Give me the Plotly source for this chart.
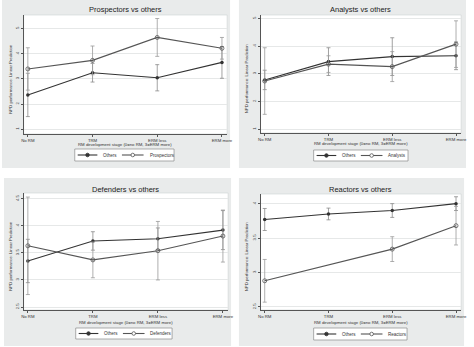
import plotly.graph_objects as go

W, H = 474, 347

stages = ["No RM", "TRM", "ERM less", "ERM more"]
xpos = [0, 1, 2, 3]

# Panel 1: Prospectors vs others
p1_others = [2.36, 3.24, 3.04, 3.65]
p1_others_err = [0.86, 0.37, 0.52, 0.63]
p1_group = [3.39, 3.73, 4.64, 4.21]
p1_group_err = [0.84, 0.57, 0.75, 0.43]

# Panel 2: Analysts vs others
p2_others = [2.78, 3.44, 3.62, 3.65]
p2_others_err = [0.35, 0.50, 0.68, 0.50]
p2_group = [2.74, 3.35, 3.26, 4.07]
p2_group_err = [1.20, 0.30, 0.54, 0.84]

# Panel 3: Defenders vs others
p3_others = [3.35, 3.72, 3.76, 3.92]
p3_others_err = [0.40, 0.17, 0.20, 0.36]
p3_group = [3.63, 3.37, 3.54, 3.81]
p3_group_err = [0.90, 0.33, 0.54, 0.48]

# Panel 4: Reactors vs others
p4_others = [3.77, 3.85, 3.90, 4.00]
p4_others_err = [0.16, 0.085, 0.10, 0.10]
p4_group = [2.88, None, 3.34, 3.68]
p4_group_err = [0.31, 0, 0.18, 0.28]

panels = [
    dict(title="Prospectors vs others", group="Prospectors",
         others=p1_others, oerr=p1_others_err, grp=p1_group, gerr=p1_group_err,
         box=(0, 0, 232, 168), plot=(22, 15, 229, 134), yr=[0.81, 5.53],
         yticks=[1, 2, 3, 4, 5], ylabels=["1", "2", "3", "4", "5"],
         xt_off=10.5, legbox=(74, 149, 175, 161)),
    dict(title="Analysts vs others", group="Analysts",
         others=p2_others, oerr=p2_others_err, grp=p2_group, gerr=p2_group_err,
         box=(241, 0, 472, 168), plot=(263, 15, 467, 133), yr=[0.867, 5.12],
         yticks=[1, 2, 3, 4, 5], ylabels=["1", "2", "3", "4", "5"],
         xt_off=11, legbox=(317, 150, 413, 161)),
    dict(title="Defenders vs others", group="Defenders",
         others=p3_others, oerr=p3_others_err, grp=p3_group, gerr=p3_group_err,
         box=(2, 178, 233, 346), plot=(22, 193, 230, 310), yr=[2.445, 4.605],
         yticks=[2.5, 3, 3.5, 4, 4.5], ylabels=["2.5", "3", "3.5", "4", "4.5"],
         xt_off=12, legbox=(75, 328, 173, 339)),
    dict(title="Reactors vs others", group="Reactors",
         others=p4_others, oerr=p4_others_err, grp=p4_group, gerr=p4_group_err,
         box=(241, 178, 470, 346), plot=(263, 194, 467, 310), yr=[2.456, 4.14],
         yticks=[2.5, 3, 3.5, 4], ylabels=["2.5", "3", "3.5", "4"],
         xt_off=12, legbox=(317, 328, 412, 340)),
]

FONT = "Liberation Sans, Arial, sans-serif"
OTHERS_C = "#333333"
GROUP_C = "#555555"

fig = go.Figure()
shapes = []
annotations = []
layout_axes = {}


def px(x):
    return x / W


def py(y):
    return 1 - y / H


for i, p in enumerate(panels):
    n = "" if i == 0 else str(i + 1)
    xa, ya = "x" + n, "y" + n
    bx0, by0, bx1, by1 = p["box"]
    shapes.append(dict(type="rect", xref="paper", yref="paper",
                       x0=px(bx0), x1=px(bx1), y0=py(by1), y1=py(by0),
                       fillcolor="#e9ebeb", line=dict(width=0), layer="below"))
    px0, py0, px1, py1 = p["plot"]
    shapes.append(dict(type="rect", xref="paper", yref="paper",
                       x0=px(px0), x1=px(px1), y0=py(py1), y1=py(py0),
                       fillcolor="white", line=dict(width=0.6, color="#cfd3d3"), layer="below"))
    layout_axes["xaxis" + n] = dict(
        domain=[px(px0), px(px1)], anchor=ya, range=[-0.065, 3.08],
        tickmode="array", tickvals=xpos, ticktext=stages,
        showgrid=False, zeroline=False, showline=True, linecolor="#555", linewidth=0.8,
        ticks="outside", ticklen=2, tickcolor="#555",
        tickfont=dict(size=4.3, color="#333", family=FONT), fixedrange=True)
    layout_axes["yaxis" + n] = dict(
        domain=[py(py1), py(py0)], anchor=xa, range=p["yr"],
        tickmode="array", tickvals=p["yticks"], ticktext=p["ylabels"], tickangle=-90,
        showgrid=True, gridcolor="#e6e8e8", gridwidth=0.8,
        zeroline=False, showline=True, linecolor="#555", linewidth=0.8,
        ticks="outside", ticklen=2, tickcolor="#555",
        tickfont=dict(size=4.3, color="#333", family=FONT), fixedrange=True)

    fig.add_trace(go.Scatter(
        x=xpos, y=p["others"], name="Others", xaxis=xa, yaxis=ya, showlegend=False,
        mode="lines+markers", connectgaps=True,
        line=dict(color=OTHERS_C, width=1.1),
        marker=dict(symbol="circle", size=3.5, color=OTHERS_C),
        error_y=dict(type="data", array=p["oerr"], visible=True,
                     color="#8a8a8a", thickness=0.8, width=2)))
    fig.add_trace(go.Scatter(
        x=xpos, y=p["grp"], name=p["group"], xaxis=xa, yaxis=ya, showlegend=False,
        mode="lines+markers", connectgaps=True,
        line=dict(color=GROUP_C, width=1.1),
        marker=dict(symbol="circle-open", size=4, color=GROUP_C, line=dict(width=0.8)),
        error_y=dict(type="data", array=p["gerr"], visible=True,
                     color="#9a9a9a", thickness=0.8, width=2)))

    cx = (px0 + px1) / 2
    annotations.append(dict(text=p["title"], xref="paper", yref="paper",
                            x=px(cx), y=py(by0 + (10 if i < 2 else 11)),
                            showarrow=False, xanchor="center", yanchor="middle",
                            font=dict(size=7.5, color="#222", family=FONT)))
    annotations.append(dict(text="RM development stage (0=no RM, 3=ERM more)",
                            xref="paper", yref="paper", x=px(cx), y=py(py1 + p["xt_off"]),
                            showarrow=False, xanchor="center", yanchor="middle",
                            font=dict(size=4.3, color="#333", family=FONT)))
    annotations.append(dict(text="NPD performance: Linear Prediction",
                            xref="paper", yref="paper", x=px(px0 - 13.5),
                            y=py((py0 + py1) / 2 + 4), textangle=-90,
                            showarrow=False, xanchor="center", yanchor="middle",
                            font=dict(size=4.3, color="#333", family=FONT)))

    # legend box (Stata style)
    lx0, ly0, lx1, ly1 = p["legbox"]
    lcy = (ly0 + ly1) / 2
    shapes.append(dict(type="rect", xref="paper", yref="paper",
                       x0=px(lx0), x1=px(lx1), y0=py(ly1), y1=py(ly0),
                       fillcolor="white", line=dict(width=0.7, color="#8a8a8a")))
    entries = [("Others", OTHERS_C, True, 3, 23, 27), (p["group"], GROUP_C, False, 48, 70, 74)]
    for label, col, filled, a, b, t in entries:
        shapes.append(dict(type="line", xref="paper", yref="paper",
                           x0=px(lx0 + a), x1=px(lx0 + b), y0=py(lcy), y1=py(lcy),
                           line=dict(color=col, width=1.1)))
        mc = lx0 + (a + b) / 2
        r = 1.8
        shapes.append(dict(type="circle", xref="paper", yref="paper",
                           x0=px(mc - r), x1=px(mc + r), y0=py(lcy + r), y1=py(lcy - r),
                           fillcolor=col if filled else "white",
                           line=dict(color=col, width=0.8)))
        annotations.append(dict(text=label, xref="paper", yref="paper",
                                x=px(lx0 + t), y=py(lcy), showarrow=False,
                                xanchor="left", yanchor="middle",
                                font=dict(size=4.5, color="#333", family=FONT)))

fig.update_layout(
    width=W, height=H, margin=dict(l=0, r=0, t=0, b=0),
    paper_bgcolor="white", plot_bgcolor="rgba(0,0,0,0)",
    shapes=shapes, annotations=annotations, showlegend=False,
    **layout_axes)

fig.write_html("out.html")
